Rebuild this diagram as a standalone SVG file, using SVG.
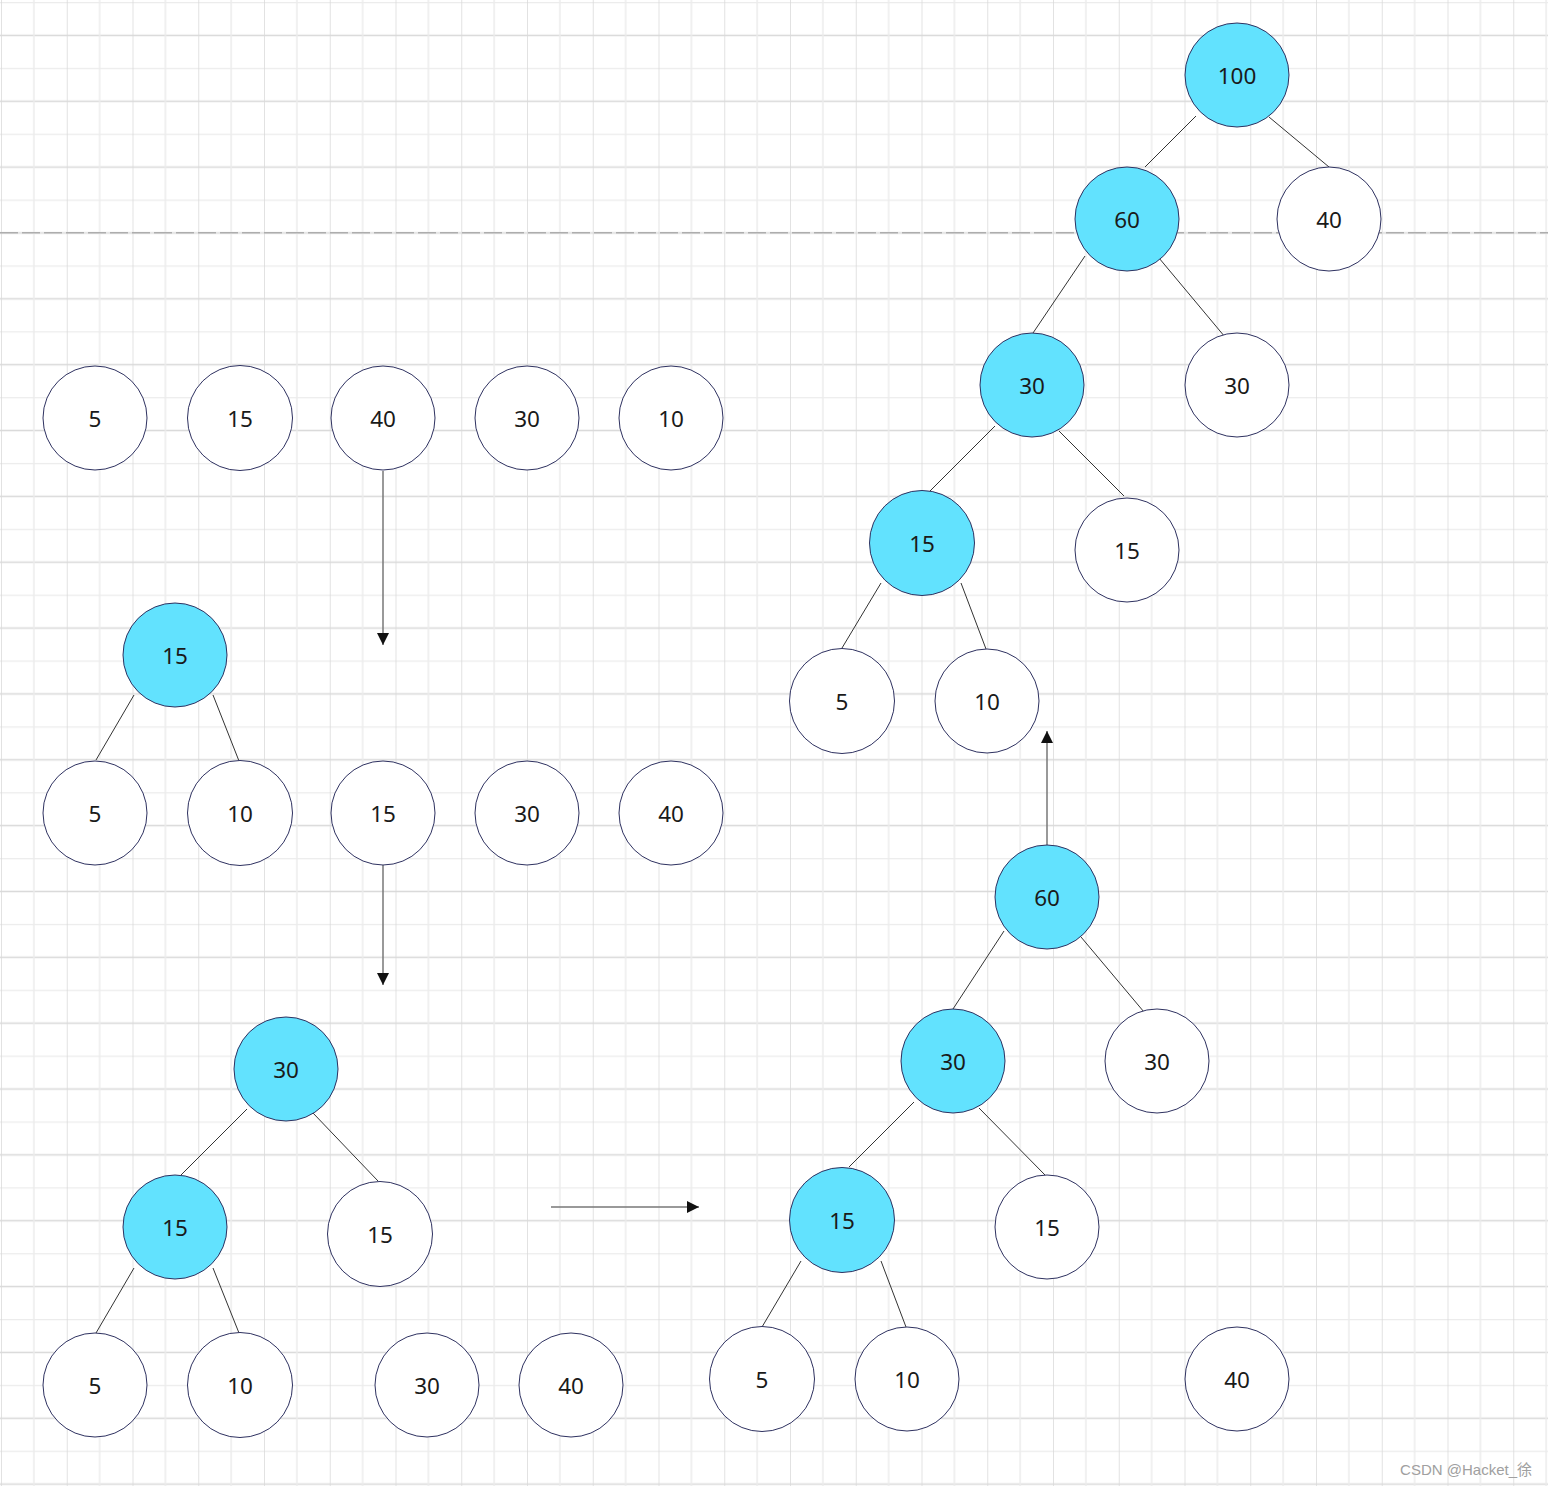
<svg xmlns="http://www.w3.org/2000/svg" width="1548" height="1486" viewBox="0 0 1548 1486">
<style>
.n circle{stroke:#2e3160;stroke-width:1;fill:#ffffff}
.n.b circle{fill:#62e2fe}
.n text{font-family:"Noto Sans","Open Sans",sans-serif;font-size:22.5px;fill:#1a1a1a;text-anchor:middle;dominant-baseline:central}
.e line{stroke:#333;stroke-width:1}
.a line{stroke:#777;stroke-width:1.5}
</style>
<defs>
<pattern id="g" patternUnits="userSpaceOnUse" x="1" y="2" width="65.75" height="65.85">
<rect width="65.75" height="65.85" fill="#fff"/>
<line x1="0" y1="0.5" x2="65.75" y2="0.5" stroke="#ececec" stroke-width="1.5"/>
<line x1="0" y1="33.4" x2="65.75" y2="33.4" stroke="#d9d9d9" stroke-width="1.5"/>
<line x1="32.9" y1="0" x2="32.9" y2="65.85" stroke="#ececec" stroke-width="1.5"/>
<line x1="0" y1="0" x2="0" y2="65.85" stroke="#d9d9d9" stroke-width="1.5"/>
</pattern>
<marker id="ar" viewBox="0 0 12 12" refX="12" refY="6" markerWidth="12" markerHeight="12" markerUnits="userSpaceOnUse" orient="auto"><path d="M0,0 L12,6 L0,12 z" fill="#111"/></marker>
</defs>
<rect width="1548" height="1486" fill="url(#g)"/>
<line x1="0" y1="232.7" x2="1548" y2="232.7" stroke="#adadad" stroke-width="1.5" stroke-dasharray="18 4"/>

<g id="connectors">
<g class="e">
<line x1="134" y1="695" x2="96" y2="760"/>
<line x1="213" y1="695" x2="239" y2="761"/>
<line x1="247" y1="1109" x2="181" y2="1175"/>
<line x1="313" y1="1113" x2="378" y2="1181"/>
<line x1="134" y1="1268" x2="96" y2="1333"/>
<line x1="213" y1="1268" x2="239" y2="1333"/>
<line x1="1004" y1="931" x2="953" y2="1009"/>
<line x1="1081" y1="937" x2="1144" y2="1012"/>
<line x1="914" y1="1102" x2="849" y2="1167"/>
<line x1="979" y1="1108" x2="1045" y2="1175"/>
<line x1="801" y1="1261" x2="762" y2="1327"/>
<line x1="881" y1="1261" x2="906" y2="1327"/>
<line x1="1196" y1="116" x2="1145" y2="167"/>
<line x1="1269" y1="117" x2="1329" y2="167"/>
<line x1="1085" y1="256" x2="1033" y2="333"/>
<line x1="1159" y1="258" x2="1225" y2="337"/>
<line x1="995" y1="426" x2="929" y2="492"/>
<line x1="1059" y1="431" x2="1124" y2="496"/>
<line x1="881" y1="583" x2="842" y2="648"/>
<line x1="961" y1="583" x2="986" y2="649"/>
</g>
<g class="a">
<line x1="383" y1="471" x2="383" y2="645" marker-end="url(#ar)"/>
<line x1="383" y1="865" x2="383" y2="985" marker-end="url(#ar)"/>
<line x1="551" y1="1207" x2="699" y2="1207" marker-end="url(#ar)"/>
<line x1="1047" y1="845" x2="1047" y2="731" marker-end="url(#ar)"/>
</g>
</g>

<g id="r1a" class="n"><circle cx="95" cy="418" r="52"/><text x="95" y="418">5</text></g>
<g id="r1b" class="n"><circle cx="240" cy="418" r="52.5"/><text x="240" y="418">15</text></g>
<g id="r1c" class="n"><circle cx="383" cy="418" r="52"/><text x="383" y="418">40</text></g>
<g id="r1d" class="n"><circle cx="527" cy="418" r="52"/><text x="527" y="418">30</text></g>
<g id="r1e" class="n"><circle cx="671" cy="418" r="52"/><text x="671" y="418">10</text></g>

<g id="m15" class="n b"><circle cx="175" cy="655" r="52"/><text x="175" y="655">15</text></g>
<g id="r2a" class="n"><circle cx="95" cy="813" r="52"/><text x="95" y="813">5</text></g>
<g id="r2b" class="n"><circle cx="240" cy="813" r="52.5"/><text x="240" y="813">10</text></g>
<g id="r2c" class="n"><circle cx="383" cy="813" r="52"/><text x="383" y="813">15</text></g>
<g id="r2d" class="n"><circle cx="527" cy="813" r="52"/><text x="527" y="813">30</text></g>
<g id="r2e" class="n"><circle cx="671" cy="813" r="52"/><text x="671" y="813">40</text></g>

<g id="bl30" class="n b"><circle cx="286" cy="1069" r="52"/><text x="286" y="1069">30</text></g>
<g id="bl15" class="n b"><circle cx="175" cy="1227" r="52"/><text x="175" y="1227">15</text></g>
<g id="bl15w" class="n"><circle cx="380" cy="1234" r="52.5"/><text x="380" y="1234">15</text></g>
<g id="bl5" class="n"><circle cx="95" cy="1385" r="52"/><text x="95" y="1385">5</text></g>
<g id="bl10" class="n"><circle cx="240" cy="1385" r="52.5"/><text x="240" y="1385">10</text></g>
<g id="bl30w" class="n"><circle cx="427" cy="1385" r="52"/><text x="427" y="1385">30</text></g>
<g id="bl40" class="n"><circle cx="571" cy="1385" r="52"/><text x="571" y="1385">40</text></g>

<g id="br60" class="n b"><circle cx="1047" cy="897" r="52"/><text x="1047" y="897">60</text></g>
<g id="br30" class="n b"><circle cx="953" cy="1061" r="52"/><text x="953" y="1061">30</text></g>
<g id="br30w" class="n"><circle cx="1157" cy="1061" r="52"/><text x="1157" y="1061">30</text></g>
<g id="br15" class="n b"><circle cx="842" cy="1220" r="52.5"/><text x="842" y="1220">15</text></g>
<g id="br15w" class="n"><circle cx="1047" cy="1227" r="52"/><text x="1047" y="1227">15</text></g>
<g id="br5" class="n"><circle cx="762" cy="1379" r="52.5"/><text x="762" y="1379">5</text></g>
<g id="br10" class="n"><circle cx="907" cy="1379" r="52"/><text x="907" y="1379">10</text></g>
<g id="br40" class="n"><circle cx="1237" cy="1379" r="52"/><text x="1237" y="1379">40</text></g>

<g id="tr100" class="n b"><circle cx="1237" cy="75" r="52"/><text x="1237" y="75">100</text></g>
<g id="tr60" class="n b"><circle cx="1127" cy="219" r="52"/><text x="1127" y="219">60</text></g>
<g id="tr40" class="n"><circle cx="1329" cy="219" r="52"/><text x="1329" y="219">40</text></g>
<g id="tr30" class="n b"><circle cx="1032" cy="385" r="52"/><text x="1032" y="385">30</text></g>
<g id="tr30w" class="n"><circle cx="1237" cy="385" r="52"/><text x="1237" y="385">30</text></g>
<g id="tr15" class="n b"><circle cx="922" cy="543" r="52.5"/><text x="922" y="543">15</text></g>
<g id="tr15w" class="n"><circle cx="1127" cy="550" r="52"/><text x="1127" y="550">15</text></g>
<g id="tr5" class="n"><circle cx="842" cy="701" r="52.5"/><text x="842" y="701">5</text></g>
<g id="tr10" class="n"><circle cx="987" cy="701" r="52"/><text x="987" y="701">10</text></g>

<text x="1532" y="1475" text-anchor="end" font-family="'Liberation Sans','Noto Sans CJK SC',sans-serif" font-size="15" fill="#a0a0a0">CSDN @Hacket_徐</text>
</svg>
